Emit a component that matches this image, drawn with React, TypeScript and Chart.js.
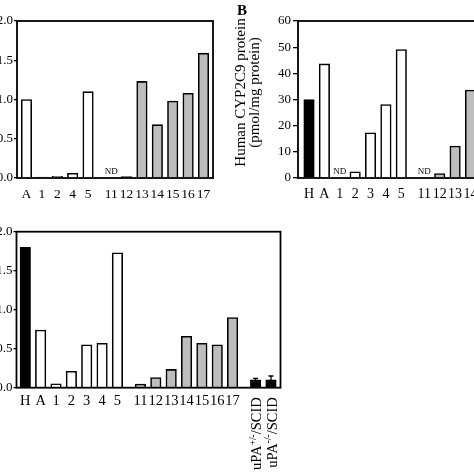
import { useEffect, useRef } from 'react';
import { Chart, registerables } from 'chart.js';

Chart.register(...registerables);

const FONT = '"Liberation Serif", "Times New Roman", serif';

// top-left panel (its y labels are cut off by the crop)
const topLeftLabels = ['A', '1', '2', '4', '5', '11', '12', '13', '14', '15', '16', '17'];
const topLeftGroups = ['set1', 'set1', 'set1', 'set1', 'set1', 'set2', 'set2', 'set2', 'set2', 'set2', 'set2', 'set2'];
const topLeftValues = [1.0, 0.013, 0.02, 0.06, 1.1, null, 0.018, 1.23, 0.68, 0.98, 1.08, 1.59];
const ratioTicks = [0, 0.5, 1.0, 1.5, 2.0];

// panel B: human CYP2C9 protein
const cypLabels = ['H', 'A', '1', '2', '3', '4', '5', '11', '12', '13', '14'];
const cypGroups = ['human', 'set1', 'set1', 'set1', 'set1', 'set1', 'set1', 'set2', 'set2', 'set2', 'set2'];
const cypValues = [30, 43.6, null, 2.4, 17.3, 28.1, 49.1, null, 1.7, 12.2, 33.6];
const cypTicks = [0, 10, 20, 30, 40, 50, 60];
const cypTitle = ['Human CYP2C9 protein', '(pmol/mg protein)'];

// bottom panel
const bottomLabels = ['H', 'A', '1', '2', '3', '4', '5', '11', '12', '13', '14', '15', '16', '17', 'uPA+/-/SCID', 'uPA-/-/SCID'];
const bottomGroups = ['human', 'set1', 'set1', 'set1', 'set1', 'set1', 'set1', 'set2', 'set2', 'set2', 'set2', 'set2', 'set2', 'set2', 'uPA', 'uPA'];
const bottomValues = [1.8, 0.74, 0.05, 0.21, 0.55, 0.57, 1.73, 0.045, 0.13, 0.235, 0.66, 0.57, 0.55, 0.9, 0.1, 0.1];
const bottomErrors = [null, null, null, null, null, null, null, null, null, null, null, null, null, null, 0.02, 0.05];

const groupColors: Record<string, string> = {
  human: '#000000',
  set1: '#ffffff',
  set2: '#bdbdbd',
  uPA: '#000000',
};

// half a slot of extra space between groups (none after the human bar)
function slotPositions(groups: string[]) {
  const out: number[] = [];
  let p = 0;
  groups.forEach((g, i) => {
    if (i > 0) p += g !== groups[i - 1] && groups[i - 1] !== 'human' ? 1.5 : 1;
    out.push(p);
  });
  return out;
}

interface Box { left: number; top: number; width: number; height: number }
interface Area { left: number; top: number; right: number; bottom: number }

interface PanelProps {
  labels: string[];
  groups: string[];
  values: (number | null)[];
  errors?: (number | null)[];
  yTicks: number[];
  decimals: number;
  box: Box;
  area: Area;
  xRange: [number, number];
  tickLength: number;
  tickPad: number;
  xFont: number;
  xPad: number;
  yTitle?: string[];
  letter?: string;
}

function BarPanel(props: PanelProps) {
  const canvasRef = useRef<HTMLCanvasElement>(null);
  const chartRef = useRef<Chart | null>(null);

  useEffect(() => {
    if (!canvasRef.current) return;
    if (chartRef.current) chartRef.current.destroy();
    const ctx = canvasRef.current.getContext('2d');
    if (!ctx) return;

    const { labels, groups, values, errors, yTicks, decimals, box, area, xRange } = props;
    const pos = slotPositions(groups);

    const overlay = {
      id: 'overlay',
      afterDraw(chart: Chart) {
        const c = chart.ctx;
        const a = chart.chartArea;
        const x = chart.scales.x;
        const y = chart.scales.y;
        c.save();
        c.strokeStyle = '#000';
        c.lineWidth = 1.8;
        c.strokeRect(a.left, a.top, a.right - a.left, a.bottom - a.top);

        c.fillStyle = '#000';
        c.font = `9px ${FONT}`;
        c.textAlign = 'center';
        c.textBaseline = 'alphabetic';
        values.forEach((v, i) => {
          if (v === null) c.fillText('ND', x.getPixelForValue(pos[i]), y.getPixelForValue(0) - 4.5);
        });

        if (errors) {
          c.lineWidth = 1.3;
          errors.forEach((e, i) => {
            const v = values[i];
            if (e === null || v === null) return;
            const cx = x.getPixelForValue(pos[i]);
            const y0 = y.getPixelForValue(v);
            const y1 = y.getPixelForValue(v + e);
            c.beginPath();
            c.moveTo(cx, y0);
            c.lineTo(cx, y1);
            c.moveTo(cx - 2.5, y1);
            c.lineTo(cx + 2.5, y1);
            c.stroke();
          });
        }

        // long genotype labels are written upright
        labels.forEach((lab, i) => {
          const m = lab.match(/^(uPA)(.+)(\/SCID)$/);
          if (!m) return;
          const main = `14.5px ${FONT}`;
          const sup = `9.5px ${FONT}`;
          c.font = main;
          const w1 = c.measureText(m[1]).width;
          const w3 = c.measureText(m[3]).width;
          c.font = sup;
          const w2 = c.measureText(m[2]).width;
          c.save();
          c.translate(x.getPixelForValue(pos[i]) + 2, x.top + 9.5 + w1 + w2 + w3);
          c.rotate(-Math.PI / 2);
          c.textAlign = 'left';
          c.textBaseline = 'middle';
          c.font = main;
          c.fillText(m[1], 0, 0);
          c.font = sup;
          c.fillText(m[2], w1, -4);
          c.font = main;
          c.fillText(m[3], w1 + w2, 0);
          c.restore();
        });

        if (props.yTitle) {
          c.font = `15px ${FONT}`;
          c.textAlign = 'center';
          c.textBaseline = 'middle';
          props.yTitle.forEach((line, i) => {
            c.save();
            c.translate(a.left - 57 + i * 14, 92.5);
            c.rotate(-Math.PI / 2);
            c.fillText(line, 0, 0);
            c.restore();
          });
        }
        if (props.letter) {
          c.font = `bold 15px ${FONT}`;
          c.textAlign = 'left';
          c.textBaseline = 'alphabetic';
          c.fillText(props.letter, 5, 15);
        }
        c.restore();
      },
    };

    chartRef.current = new Chart(ctx, {
      type: 'bar',
      data: {
        datasets: [
          {
            data: values.map((v, i) => ({ x: pos[i], y: v })) as any,
            backgroundColor: groups.map((g) => groupColors[g]),
            borderColor: '#000',
            borderWidth: 1.6,
            barThickness: 10.5,
          },
        ],
      },
      options: {
        responsive: false,
        maintainAspectRatio: false,
        animation: false,
        events: [],
        layout: { padding: { left: 0, top: area.top, right: box.width - area.right, bottom: 0 } },
        plugins: { legend: { display: false }, tooltip: { enabled: false } },
        scales: {
          x: {
            type: 'linear',
            min: xRange[0],
            max: xRange[1],
            offset: false,
            grid: { display: false, drawTicks: false, tickLength: 0 },
            border: { display: false },
            afterBuildTicks: (s: any) => {
              s.ticks = pos.map((v) => ({ value: v }));
            },
            afterFit: (s: any) => {
              s.height = box.height - area.bottom;
            },
            ticks: {
              autoSkip: false,
              maxRotation: 0,
              minRotation: 0,
              padding: props.xPad,
              color: '#000',
              font: { family: FONT, size: props.xFont },
              callback: (_v: any, i: number) => (labels[i].includes('SCID') ? '' : labels[i]),
            },
          },
          y: {
            type: 'linear',
            min: yTicks[0],
            max: yTicks[yTicks.length - 1],
            afterBuildTicks: (s: any) => {
              s.ticks = yTicks.map((v) => ({ value: v }));
            },
            afterFit: (s: any) => {
              s.width = area.left;
            },
            grid: {
              drawOnChartArea: false,
              drawTicks: true,
              tickLength: props.tickLength,
              color: '#000',
              lineWidth: 1.3,
            },
            border: { display: false },
            ticks: {
              padding: props.tickPad,
              color: '#000',
              font: { family: FONT, size: 13 },
              callback: (v: any) => Number(v).toFixed(decimals),
            },
          },
        },
      },
      plugins: [overlay],
    });

    return () => {
      if (chartRef.current) {
        chartRef.current.destroy();
        chartRef.current = null;
      }
    };
  }, [props]);

  const { box } = props;
  return (
    <canvas
      ref={canvasRef}
      width={box.width}
      height={box.height}
      style={{ position: 'absolute', left: box.left, top: box.top, width: box.width, height: box.height }}
    />
  );
}

const topLeftProps: PanelProps = {
  labels: topLeftLabels,
  groups: topLeftGroups,
  values: topLeftValues,
  yTicks: ratioTicks,
  decimals: 1,
  box: { left: -40, top: 0, width: 260, height: 215 },
  area: { left: 57, top: 21, right: 253, bottom: 178 },
  xRange: [-0.617, 12.117],
  tickLength: 3,
  tickPad: 1,
  xFont: 13.5,
  xPad: 8.1,
};

const cypProps: PanelProps = {
  labels: cypLabels,
  groups: cypGroups,
  values: cypValues,
  yTicks: cypTicks,
  decimals: 0,
  box: { left: 232, top: 0, width: 340, height: 215 },
  area: { left: 66, top: 21, right: 330, bottom: 178 },
  xRange: [-0.716, 16.45],
  tickLength: 5,
  tickPad: 2,
  xFont: 14,
  xPad: 7.8,
  yTitle: cypTitle,
  letter: 'B',
};

const bottomProps: PanelProps = {
  labels: bottomLabels,
  groups: bottomGroups,
  values: bottomValues,
  errors: bottomErrors,
  yTicks: ratioTicks,
  decimals: 1,
  box: { left: -40, top: 205, width: 330, height: 269 },
  area: { left: 56.5, top: 26.7, right: 320.5, bottom: 182.7 },
  xRange: [-0.573, 16.62],
  tickLength: 3,
  tickPad: 1,
  xFont: 14.5,
  xPad: 5.1,
};

export default function App() {
  return (
    <div
      style={{
        position: 'fixed',
        left: 0,
        top: 0,
        width: 474,
        height: 474,
        overflow: 'hidden',
        background: '#fff',
      }}
    >
      <BarPanel {...topLeftProps} />
      <BarPanel {...cypProps} />
      <BarPanel {...bottomProps} />
    </div>
  );
}
